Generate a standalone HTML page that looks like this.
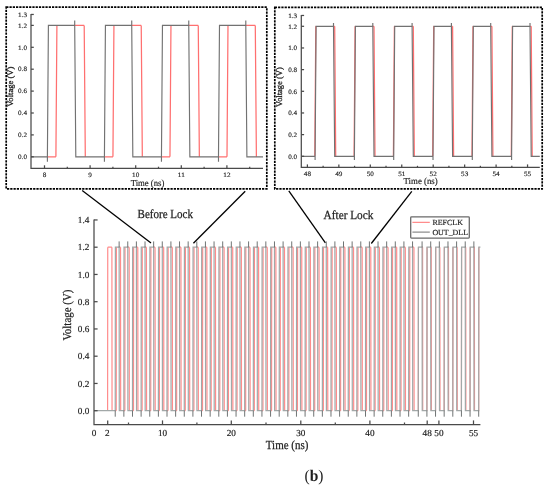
<!DOCTYPE html><html><head><meta charset="utf-8"><style>html,body{margin:0;padding:0;background:#fff;width:550px;height:489px;overflow:hidden}svg{display:block}text{font-family:'Liberation Serif', 'Times New Roman', serif;fill:#1e1e1e;stroke:#1e1e1e;text-rendering:geometricPrecision}.fb{stroke:#2a2a2a;stroke-width:0.28px}</style></head><body>
<svg width="550" height="489" viewBox="0 0 550 489">
<rect x="6.2" y="7.2" width="260.6" height="181.6" stroke="#000" stroke-width="1.7" fill="none" stroke-dasharray="2.25 1.02"/>
<rect x="274.8" y="7.3" width="267.4" height="181.6" stroke="#000" stroke-width="1.7" fill="none" stroke-dasharray="2.25 1.02"/>
<g stroke="#000" stroke-width="1.3">
<line x1="82.2" y1="190.6" x2="151" y2="243"/>
<line x1="245.2" y1="191.3" x2="193.4" y2="243.3"/>
<line x1="288.8" y1="190.8" x2="325.4" y2="242.8"/>
<line x1="411.8" y1="191.3" x2="371.3" y2="243.5"/>
</g>
<path d="M74.7 25.4H84.2M131.73 25.4H141.23M188.76 25.4H198.26M245.79 25.4H255.29M47.4 156.8H55.9M104.43 156.8H112.93M161.46 156.8H169.96M218.49 156.8H226.99M55.9 156.8L56.9 25.4M84.2 25.4L85.3 156.8M112.93 156.8L113.93 25.4M141.23 25.4L142.33 156.8M169.96 156.8L170.96 25.4M198.26 25.4L199.36 156.8M226.99 156.8L227.99 25.4M255.29 25.4L256.39 156.8" stroke="#ff7070" stroke-width="1.25" fill="none" stroke-linejoin="miter"/>
<path d="M31 156.8 H47.4 V161.8 M47.4 156.8 L48.4 25.4 H74.7 V20.4 M74.7 25.4 L75.8 156.8 H104.43 V161.8 M104.43 156.8 L105.43 25.4 H131.73 V20.4 M131.73 25.4 L132.83 156.8 H161.46 V161.8 M161.46 156.8 L162.46 25.4 H188.76 V20.4 M188.76 25.4 L189.86 156.8 H218.49 V161.8 M218.49 156.8 L219.49 25.4 H245.79 V20.4 M245.79 25.4 L246.89 156.8 H263" stroke="#727272" stroke-width="1.15" fill="none" stroke-linejoin="miter"/>
<g stroke="#4a4a4a" stroke-width="1.25" fill="none">
<path d="M31 14 V168.3 H263"/>
<line x1="31" y1="156.8" x2="33.8" y2="156.8"/>
<line x1="31" y1="134.9" x2="33.8" y2="134.9"/>
<line x1="31" y1="113" x2="33.8" y2="113"/>
<line x1="31" y1="91.1" x2="33.8" y2="91.1"/>
<line x1="31" y1="69.2" x2="33.8" y2="69.2"/>
<line x1="31" y1="47.3" x2="33.8" y2="47.3"/>
<line x1="31" y1="25.4" x2="33.8" y2="25.4"/>
<line x1="31" y1="14.45" x2="33.8" y2="14.45"/>
<line x1="44.5" y1="168.3" x2="44.5" y2="165.3"/>
<line x1="90.1" y1="168.3" x2="90.1" y2="165.3"/>
<line x1="135.7" y1="168.3" x2="135.7" y2="165.3"/>
<line x1="181.3" y1="168.3" x2="181.3" y2="165.3"/>
<line x1="226.9" y1="168.3" x2="226.9" y2="165.3"/>
<line x1="67.3" y1="168.3" x2="67.3" y2="166.7"/>
<line x1="112.9" y1="168.3" x2="112.9" y2="166.7"/>
<line x1="158.5" y1="168.3" x2="158.5" y2="166.7"/>
<line x1="204.1" y1="168.3" x2="204.1" y2="166.7"/>
<line x1="249.7" y1="168.3" x2="249.7" y2="166.7"/>
</g>
<text x="27" y="159" font-size="6.6" text-anchor="end" stroke-width="0.14" textLength="8.99" lengthAdjust="spacingAndGlyphs">0.0</text>
<text x="27" y="137.1" font-size="6.6" text-anchor="end" stroke-width="0.14" textLength="8.99" lengthAdjust="spacingAndGlyphs">0.2</text>
<text x="27" y="115.2" font-size="6.6" text-anchor="end" stroke-width="0.14" textLength="8.99" lengthAdjust="spacingAndGlyphs">0.4</text>
<text x="27" y="93.3" font-size="6.6" text-anchor="end" stroke-width="0.14" textLength="8.99" lengthAdjust="spacingAndGlyphs">0.6</text>
<text x="27" y="71.4" font-size="6.6" text-anchor="end" stroke-width="0.14" textLength="8.99" lengthAdjust="spacingAndGlyphs">0.8</text>
<text x="27" y="49.5" font-size="6.6" text-anchor="end" stroke-width="0.14" textLength="8.99" lengthAdjust="spacingAndGlyphs">1.0</text>
<text x="27" y="27.6" font-size="6.6" text-anchor="end" stroke-width="0.14" textLength="8.99" lengthAdjust="spacingAndGlyphs">1.2</text>
<text x="27" y="16.65" font-size="6.6" text-anchor="end" stroke-width="0.14" textLength="8.99" lengthAdjust="spacingAndGlyphs">1.3</text>
<text x="44.5" y="176.6" font-size="6.6" text-anchor="middle" stroke-width="0.14" textLength="3.6" lengthAdjust="spacingAndGlyphs">8</text>
<text x="90.1" y="176.6" font-size="6.6" text-anchor="middle" stroke-width="0.14" textLength="3.6" lengthAdjust="spacingAndGlyphs">9</text>
<text x="135.7" y="176.6" font-size="6.6" text-anchor="middle" stroke-width="0.14" textLength="7.19" lengthAdjust="spacingAndGlyphs">10</text>
<text x="181.3" y="176.6" font-size="6.6" text-anchor="middle" stroke-width="0.14" textLength="6.93" lengthAdjust="spacingAndGlyphs">11</text>
<text x="226.9" y="176.6" font-size="6.6" text-anchor="middle" stroke-width="0.14" textLength="7.19" lengthAdjust="spacingAndGlyphs">12</text>
<text x="147.5" y="185.7" font-size="9.2" text-anchor="middle" stroke-width="0.18" textLength="33.7" lengthAdjust="spacingAndGlyphs">Time (ns)</text>
<text transform="translate(13.4 86.7) rotate(-90)" font-size="8.4" text-anchor="middle" stroke-width="0.3" textLength="40" lengthAdjust="spacingAndGlyphs">Voltage (V)</text>
<path d="M315.8 26.3H316.1M333.5 26.3H334.7M355.1 26.3H355.4M372.8 26.3H374M394.4 26.3H394.7M412.1 26.3H413.3M433.7 26.3H434M451.4 26.3H452.6M473 26.3H473.3M490.7 26.3H491.9M512.3 26.3H512.6M530 26.3H531.2M314.8 156.3L315.8 26.3M334.7 26.3L335.7 156.3M354.1 156.3L355.1 26.3M374 26.3L375 156.3M393.4 156.3L394.4 26.3M413.3 26.3L414.3 156.3M432.7 156.3L433.7 26.3M452.6 26.3L453.6 156.3M472 156.3L473 26.3M491.9 26.3L492.9 156.3M511.3 156.3L512.3 26.3M531.2 26.3L532.2 156.3" stroke="#ff7070" stroke-width="1.25" fill="none" stroke-linejoin="miter"/>
<path d="M301.3 156.3 H315.1 V159.9 M315.1 156.3 L316.1 26.3 H333.5 V22.9 M333.5 26.3 L334.7 156.3 H354.4 V159.9 M354.4 156.3 L355.4 26.3 H372.8 V22.9 M372.8 26.3 L374 156.3 H393.7 V159.9 M393.7 156.3 L394.7 26.3 H412.1 V22.9 M412.1 26.3 L413.3 156.3 H433 V159.9 M433 156.3 L434 26.3 H451.4 V22.9 M451.4 26.3 L452.6 156.3 H472.3 V159.9 M472.3 156.3 L473.3 26.3 H490.7 V22.9 M490.7 26.3 L491.9 156.3 H511.6 V159.9 M511.6 156.3 L512.6 26.3 H530 V22.9 M530 26.3 L531.2 156.3 H539.8" stroke="#727272" stroke-width="1.15" fill="none" stroke-linejoin="miter"/>
<g stroke="#4a4a4a" stroke-width="1.25" fill="none">
<path d="M301.3 15 V167.4 H539.8"/>
<line x1="301.3" y1="156.3" x2="304.1" y2="156.3"/>
<line x1="301.3" y1="134.63" x2="304.1" y2="134.63"/>
<line x1="301.3" y1="112.97" x2="304.1" y2="112.97"/>
<line x1="301.3" y1="91.3" x2="304.1" y2="91.3"/>
<line x1="301.3" y1="69.63" x2="304.1" y2="69.63"/>
<line x1="301.3" y1="47.97" x2="304.1" y2="47.97"/>
<line x1="301.3" y1="26.3" x2="304.1" y2="26.3"/>
<line x1="301.3" y1="15.47" x2="304.1" y2="15.47"/>
<line x1="307.4" y1="167.4" x2="307.4" y2="164.4"/>
<line x1="338.85" y1="167.4" x2="338.85" y2="164.4"/>
<line x1="370.3" y1="167.4" x2="370.3" y2="164.4"/>
<line x1="401.75" y1="167.4" x2="401.75" y2="164.4"/>
<line x1="433.2" y1="167.4" x2="433.2" y2="164.4"/>
<line x1="464.65" y1="167.4" x2="464.65" y2="164.4"/>
<line x1="496.1" y1="167.4" x2="496.1" y2="164.4"/>
<line x1="527.55" y1="167.4" x2="527.55" y2="164.4"/>
<line x1="323.12" y1="167.4" x2="323.12" y2="165.8"/>
<line x1="354.57" y1="167.4" x2="354.57" y2="165.8"/>
<line x1="386.02" y1="167.4" x2="386.02" y2="165.8"/>
<line x1="417.47" y1="167.4" x2="417.47" y2="165.8"/>
<line x1="448.92" y1="167.4" x2="448.92" y2="165.8"/>
<line x1="480.38" y1="167.4" x2="480.38" y2="165.8"/>
<line x1="511.82" y1="167.4" x2="511.82" y2="165.8"/>
</g>
<text x="297.2" y="158.5" font-size="6.6" text-anchor="end" stroke-width="0.14" textLength="8.99" lengthAdjust="spacingAndGlyphs">0.0</text>
<text x="297.2" y="136.83" font-size="6.6" text-anchor="end" stroke-width="0.14" textLength="8.99" lengthAdjust="spacingAndGlyphs">0.2</text>
<text x="297.2" y="115.17" font-size="6.6" text-anchor="end" stroke-width="0.14" textLength="8.99" lengthAdjust="spacingAndGlyphs">0.4</text>
<text x="297.2" y="93.5" font-size="6.6" text-anchor="end" stroke-width="0.14" textLength="8.99" lengthAdjust="spacingAndGlyphs">0.6</text>
<text x="297.2" y="71.83" font-size="6.6" text-anchor="end" stroke-width="0.14" textLength="8.99" lengthAdjust="spacingAndGlyphs">0.8</text>
<text x="297.2" y="50.17" font-size="6.6" text-anchor="end" stroke-width="0.14" textLength="8.99" lengthAdjust="spacingAndGlyphs">1.0</text>
<text x="297.2" y="28.5" font-size="6.6" text-anchor="end" stroke-width="0.14" textLength="8.99" lengthAdjust="spacingAndGlyphs">1.2</text>
<text x="297.2" y="17.67" font-size="6.6" text-anchor="end" stroke-width="0.14" textLength="8.99" lengthAdjust="spacingAndGlyphs">1.3</text>
<text x="307.4" y="176" font-size="6.6" text-anchor="middle" stroke-width="0.14" textLength="7.19" lengthAdjust="spacingAndGlyphs">48</text>
<text x="338.85" y="176" font-size="6.6" text-anchor="middle" stroke-width="0.14" textLength="7.19" lengthAdjust="spacingAndGlyphs">49</text>
<text x="370.3" y="176" font-size="6.6" text-anchor="middle" stroke-width="0.14" textLength="7.19" lengthAdjust="spacingAndGlyphs">50</text>
<text x="401.75" y="176" font-size="6.6" text-anchor="middle" stroke-width="0.14" textLength="7.19" lengthAdjust="spacingAndGlyphs">51</text>
<text x="433.2" y="176" font-size="6.6" text-anchor="middle" stroke-width="0.14" textLength="7.19" lengthAdjust="spacingAndGlyphs">52</text>
<text x="464.65" y="176" font-size="6.6" text-anchor="middle" stroke-width="0.14" textLength="7.19" lengthAdjust="spacingAndGlyphs">53</text>
<text x="496.1" y="176" font-size="6.6" text-anchor="middle" stroke-width="0.14" textLength="7.19" lengthAdjust="spacingAndGlyphs">54</text>
<text x="527.55" y="176" font-size="6.6" text-anchor="middle" stroke-width="0.14" textLength="7.19" lengthAdjust="spacingAndGlyphs">55</text>
<text x="420.6" y="184.1" font-size="9.2" text-anchor="middle" stroke-width="0.18" textLength="34.1" lengthAdjust="spacingAndGlyphs">Time (ns)</text>
<text transform="translate(281.7 87.1) rotate(-90)" font-size="8.4" text-anchor="middle" stroke-width="0.3" textLength="39.6" lengthAdjust="spacingAndGlyphs">Voltage (V)</text>
<path d="M107.75 247.2H111.9M119.13 247.2H120.53M127.76 247.2H129.16M136.39 247.2H137.79M145.02 247.2H146.42M153.65 247.2H155.05M162.28 247.2H163.68M170.91 247.2H172.31M179.54 247.2H180.94M188.17 247.2H189.57M196.8 247.2H198.2M205.43 247.2H206.83M214.06 247.2H215.46M222.69 247.2H224.09M231.32 247.2H232.72M239.95 247.2H241.35M248.58 247.2H249.98M257.21 247.2H258.61M265.84 247.2H267.24M274.47 247.2H275.87M283.1 247.2H284.5M291.73 247.2H293.13M300.36 247.2H301.76M308.99 247.2H310.39M317.62 247.2H319.02M326.25 247.2H327.65M334.88 247.2H336.28M343.51 247.2H344.91M352.14 247.2H353.54M360.77 247.2H362.17M369.4 247.2H370.8M378.03 247.2H379.43M386.66 247.2H388.06M395.29 247.2H396.69M403.92 247.2H405.32M412.55 247.2H413.95M422.08 247.2H422.58M430.71 247.2H431.21M439.34 247.2H439.84M447.97 247.2H448.47M456.6 247.2H457.1M465.23 247.2H465.73M473.86 247.2H474.36M115.23 410.7H116.23M123.86 410.7H124.86M132.49 410.7H133.49M141.12 410.7H142.12M149.75 410.7H150.75M158.38 410.7H159.38M167.01 410.7H168.01M175.64 410.7H176.64M184.27 410.7H185.27M192.9 410.7H193.9M201.53 410.7H202.53M210.16 410.7H211.16M218.79 410.7H219.79M227.42 410.7H228.42M236.05 410.7H237.05M244.68 410.7H245.68M253.31 410.7H254.31M261.94 410.7H262.94M270.57 410.7H271.57M279.2 410.7H280.2M287.83 410.7H288.83M296.46 410.7H297.46M305.09 410.7H306.09M313.72 410.7H314.72M322.35 410.7H323.35M330.98 410.7H331.98M339.61 410.7H340.61M348.24 410.7H349.24M356.87 410.7H357.87M365.5 410.7H366.5M374.13 410.7H375.13M382.76 410.7H383.76M391.39 410.7H392.39M400.02 410.7H401.02M408.65 410.7H409.65M107.6 410.7L107.75 247.2M111.9 247.2L112.05 410.7M116.23 410.7L116.38 247.2M120.53 247.2L120.68 410.7M124.86 410.7L125.01 247.2M129.16 247.2L129.31 410.7M133.49 410.7L133.64 247.2M137.79 247.2L137.94 410.7M142.12 410.7L142.27 247.2M146.42 247.2L146.57 410.7M150.75 410.7L150.9 247.2M155.05 247.2L155.2 410.7M159.38 410.7L159.53 247.2M163.68 247.2L163.83 410.7M168.01 410.7L168.16 247.2M172.31 247.2L172.46 410.7M176.64 410.7L176.79 247.2M180.94 247.2L181.09 410.7M185.27 410.7L185.42 247.2M189.57 247.2L189.72 410.7M193.9 410.7L194.05 247.2M198.2 247.2L198.35 410.7M202.53 410.7L202.68 247.2M206.83 247.2L206.98 410.7M211.16 410.7L211.31 247.2M215.46 247.2L215.61 410.7M219.79 410.7L219.94 247.2M224.09 247.2L224.24 410.7M228.42 410.7L228.57 247.2M232.72 247.2L232.87 410.7M237.05 410.7L237.2 247.2M241.35 247.2L241.5 410.7M245.68 410.7L245.83 247.2M249.98 247.2L250.13 410.7M254.31 410.7L254.46 247.2M258.61 247.2L258.76 410.7M262.94 410.7L263.09 247.2M267.24 247.2L267.39 410.7M271.57 410.7L271.72 247.2M275.87 247.2L276.02 410.7M280.2 410.7L280.35 247.2M284.5 247.2L284.65 410.7M288.83 410.7L288.98 247.2M293.13 247.2L293.28 410.7M297.46 410.7L297.61 247.2M301.76 247.2L301.91 410.7M306.09 410.7L306.24 247.2M310.39 247.2L310.54 410.7M314.72 410.7L314.87 247.2M319.02 247.2L319.17 410.7M323.35 410.7L323.5 247.2M327.65 247.2L327.8 410.7M331.98 410.7L332.13 247.2M336.28 247.2L336.43 410.7M340.61 410.7L340.76 247.2M344.91 247.2L345.06 410.7M349.24 410.7L349.39 247.2M353.54 247.2L353.69 410.7M357.87 410.7L358.02 247.2M362.17 247.2L362.32 410.7M366.5 410.7L366.65 247.2M370.8 247.2L370.95 410.7M375.13 410.7L375.28 247.2M379.43 247.2L379.58 410.7M383.76 410.7L383.91 247.2M388.06 247.2L388.21 410.7M392.39 410.7L392.54 247.2M396.69 247.2L396.84 410.7M401.02 410.7L401.17 247.2M405.32 247.2L405.47 410.7M409.65 410.7L409.8 247.2M413.95 247.2L414.1 410.7M418.28 410.7L418.43 247.2M422.58 247.2L422.73 410.7M426.91 410.7L427.06 247.2M431.21 247.2L431.36 410.7M435.54 410.7L435.69 247.2M439.84 247.2L439.99 410.7M444.17 410.7L444.32 247.2M448.47 247.2L448.62 410.7M452.8 410.7L452.95 247.2M457.1 247.2L457.25 410.7M461.43 410.7L461.58 247.2M465.73 247.2L465.88 410.7M470.06 410.7L470.21 247.2M474.36 247.2L474.51 410.7M478.69 410.7L478.84 247.2" stroke="#ff8c8c" stroke-width="1.2" fill="none" stroke-linejoin="miter"/>
<path d="M94 410.7 H115.23 L115.38 247.2 H119.13 L119.28 410.7 H123.86 L124.01 247.2 H127.76 L127.91 410.7 H132.49 L132.64 247.2 H136.39 L136.54 410.7 H141.12 L141.27 247.2 H145.02 L145.17 410.7 H149.75 L149.9 247.2 H153.65 L153.8 410.7 H158.38 L158.53 247.2 H162.28 L162.43 410.7 H167.01 L167.16 247.2 H170.91 L171.06 410.7 H175.64 L175.79 247.2 H179.54 L179.69 410.7 H184.27 L184.42 247.2 H188.17 L188.32 410.7 H192.9 L193.05 247.2 H196.8 L196.95 410.7 H201.53 L201.68 247.2 H205.43 L205.58 410.7 H210.16 L210.31 247.2 H214.06 L214.21 410.7 H218.79 L218.94 247.2 H222.69 L222.84 410.7 H227.42 L227.57 247.2 H231.32 L231.47 410.7 H236.05 L236.2 247.2 H239.95 L240.1 410.7 H244.68 L244.83 247.2 H248.58 L248.73 410.7 H253.31 L253.46 247.2 H257.21 L257.36 410.7 H261.94 L262.09 247.2 H265.84 L265.99 410.7 H270.57 L270.72 247.2 H274.47 L274.62 410.7 H279.2 L279.35 247.2 H283.1 L283.25 410.7 H287.83 L287.98 247.2 H291.73 L291.88 410.7 H296.46 L296.61 247.2 H300.36 L300.51 410.7 H305.09 L305.24 247.2 H308.99 L309.14 410.7 H313.72 L313.87 247.2 H317.62 L317.77 410.7 H322.35 L322.5 247.2 H326.25 L326.4 410.7 H330.98 L331.13 247.2 H334.88 L335.03 410.7 H339.61 L339.76 247.2 H343.51 L343.66 410.7 H348.24 L348.39 247.2 H352.14 L352.29 410.7 H356.87 L357.02 247.2 H360.77 L360.92 410.7 H365.5 L365.65 247.2 H369.4 L369.55 410.7 H374.13 L374.28 247.2 H378.03 L378.18 410.7 H382.76 L382.91 247.2 H386.66 L386.81 410.7 H391.39 L391.54 247.2 H395.29 L395.44 410.7 H400.02 L400.17 247.2 H403.92 L404.07 410.7 H408.65 L408.8 247.2 H412.55 L412.7 410.7 H418.28 L418.43 247.2 H422.08 L422.23 410.7 H426.91 L427.06 247.2 H430.71 L430.86 410.7 H435.54 L435.69 247.2 H439.34 L439.49 410.7 H444.17 L444.32 247.2 H447.97 L448.12 410.7 H452.8 L452.95 247.2 H456.6 L456.75 410.7 H461.43 L461.58 247.2 H465.23 L465.38 410.7 H470.06 L470.21 247.2 H473.86 L474.01 410.7 H478.69 L478.84 247.2 H480.4" stroke="#a2a8a8" stroke-width="1.2" fill="none" stroke-linejoin="miter"/>
<path d="M115.23 410.4V416.7M119.13 247.5V241.4M123.86 410.4V416.7M127.76 247.5V241.4M132.49 410.4V416.7M136.39 247.5V241.4M141.12 410.4V416.7M145.02 247.5V241.4M149.75 410.4V416.7M153.65 247.5V241.4M158.38 410.4V416.7M162.28 247.5V241.4M167.01 410.4V416.7M170.91 247.5V241.4M175.64 410.4V416.7M179.54 247.5V241.4M184.27 410.4V416.7M188.17 247.5V241.4M192.9 410.4V416.7M196.8 247.5V241.4M201.53 410.4V416.7M205.43 247.5V241.4M210.16 410.4V416.7M214.06 247.5V241.4M218.79 410.4V416.7M222.69 247.5V241.4M227.42 410.4V416.7M231.32 247.5V241.4M236.05 410.4V416.7M239.95 247.5V241.4M244.68 410.4V416.7M248.58 247.5V241.4M253.31 410.4V416.7M257.21 247.5V241.4M261.94 410.4V416.7M265.84 247.5V241.4M270.57 410.4V416.7M274.47 247.5V241.4M279.2 410.4V416.7M283.1 247.5V241.4M287.83 410.4V416.7M291.73 247.5V241.4M296.46 410.4V416.7M300.36 247.5V241.4M305.09 410.4V416.7M308.99 247.5V241.4M313.72 410.4V416.7M317.62 247.5V241.4M322.35 410.4V416.7M326.25 247.5V241.4M330.98 410.4V416.7M334.88 247.5V241.4M339.61 410.4V416.7M343.51 247.5V241.4M348.24 410.4V416.7M352.14 247.5V241.4M356.87 410.4V416.7M360.77 247.5V241.4M365.5 410.4V416.7M369.4 247.5V241.4M374.13 410.4V416.7M378.03 247.5V241.4M382.76 410.4V416.7M386.66 247.5V241.4M391.39 410.4V416.7M395.29 247.5V241.4M400.02 410.4V416.7M403.92 247.5V241.4M408.65 410.4V416.7M412.55 247.5V241.4M418.28 410.4V416.7M422.08 247.5V241.4M426.91 410.4V416.7M430.71 247.5V241.4M435.54 410.4V416.7M439.34 247.5V241.4M444.17 410.4V416.7M447.97 247.5V241.4M452.8 410.4V416.7M456.6 247.5V241.4M461.43 410.4V416.7M465.23 247.5V241.4M470.06 410.4V416.7M473.86 247.5V241.4M478.69 410.4V416.7" stroke="#707474" stroke-width="1" fill="none" stroke-linejoin="miter"/>
<g stroke="#4a4a4a" stroke-width="1.25" fill="none">
<path d="M94 219.5 V424.7 H480.4"/>
<line x1="94" y1="410.7" x2="97.6" y2="410.7"/>
<line x1="94" y1="383.45" x2="97.6" y2="383.45"/>
<line x1="94" y1="356.2" x2="97.6" y2="356.2"/>
<line x1="94" y1="328.95" x2="97.6" y2="328.95"/>
<line x1="94" y1="301.7" x2="97.6" y2="301.7"/>
<line x1="94" y1="274.45" x2="97.6" y2="274.45"/>
<line x1="94" y1="247.2" x2="97.6" y2="247.2"/>
<line x1="94" y1="219.95" x2="97.6" y2="219.95"/>
<line x1="107.7" y1="424.7" x2="107.7" y2="420.4"/>
<line x1="162.5" y1="424.7" x2="162.5" y2="420.4"/>
<line x1="231.3" y1="424.7" x2="231.3" y2="420.4"/>
<line x1="300.8" y1="424.7" x2="300.8" y2="420.4"/>
<line x1="369.9" y1="424.7" x2="369.9" y2="420.4"/>
<line x1="427.2" y1="424.7" x2="427.2" y2="420.4"/>
<line x1="438.9" y1="424.7" x2="438.9" y2="420.4"/>
<line x1="473.5" y1="424.7" x2="473.5" y2="420.4"/>
<line x1="128.5" y1="424.7" x2="128.5" y2="422.5"/>
<line x1="196.9" y1="424.7" x2="196.9" y2="422.5"/>
<line x1="266" y1="424.7" x2="266" y2="422.5"/>
<line x1="335.3" y1="424.7" x2="335.3" y2="422.5"/>
<line x1="404.5" y1="424.7" x2="404.5" y2="422.5"/>
</g>
<text x="89.3" y="413.9" font-size="9.2" text-anchor="end" stroke-width="0.18">0.0</text>
<text x="89.3" y="386.65" font-size="9.2" text-anchor="end" stroke-width="0.18">0.2</text>
<text x="89.3" y="359.4" font-size="9.2" text-anchor="end" stroke-width="0.18">0.4</text>
<text x="89.3" y="332.15" font-size="9.2" text-anchor="end" stroke-width="0.18">0.6</text>
<text x="89.3" y="304.9" font-size="9.2" text-anchor="end" stroke-width="0.18">0.8</text>
<text x="89.3" y="277.65" font-size="9.2" text-anchor="end" stroke-width="0.18">1.0</text>
<text x="89.3" y="250.4" font-size="9.2" text-anchor="end" stroke-width="0.18">1.2</text>
<text x="89.3" y="223.15" font-size="9.2" text-anchor="end" stroke-width="0.18">1.4</text>
<text x="94" y="436.4" font-size="9.2" text-anchor="middle" stroke-width="0.18">0</text>
<text x="107.3" y="436.4" font-size="9.2" text-anchor="middle" stroke-width="0.18">2</text>
<text x="162.5" y="436.4" font-size="9.2" text-anchor="middle" stroke-width="0.18">10</text>
<text x="231.3" y="436.4" font-size="9.2" text-anchor="middle" stroke-width="0.18">20</text>
<text x="300.8" y="436.4" font-size="9.2" text-anchor="middle" stroke-width="0.18">30</text>
<text x="369.9" y="436.4" font-size="9.2" text-anchor="middle" stroke-width="0.18">40</text>
<text x="427.2" y="436.4" font-size="9.2" text-anchor="middle" stroke-width="0.18">48</text>
<text x="438.9" y="436.4" font-size="9.2" text-anchor="middle" stroke-width="0.18">50</text>
<text x="473.5" y="436.4" font-size="9.2" text-anchor="middle" stroke-width="0.18">55</text>
<text x="287.1" y="448.5" font-size="12.4" text-anchor="middle" stroke-width="0.25" textLength="42.6" lengthAdjust="spacingAndGlyphs">Time (ns)</text>
<text transform="translate(71.1 315.1) rotate(-90)" font-size="12" text-anchor="middle" stroke-width="0.24" textLength="51" lengthAdjust="spacingAndGlyphs">Voltage (V)</text>
<rect x="410.7" y="216.9" width="58.6" height="21.2" rx="0.8" fill="#fff" stroke="#6a6a6a" stroke-width="1.3"/>
<line x1="412.4" y1="222.3" x2="429.8" y2="222.3" stroke="#ff7070" stroke-width="1"/>
<line x1="412.4" y1="232.1" x2="429.8" y2="232.1" stroke="#727272" stroke-width="1"/>
<text x="432.4" y="225" font-size="7.8" text-anchor="start" stroke-width="0.16" textLength="30.5" lengthAdjust="spacingAndGlyphs">REFCLK</text>
<text x="432.4" y="235" font-size="7.8" text-anchor="start" stroke-width="0.16" textLength="35.6" lengthAdjust="spacingAndGlyphs">OUT_DLL</text>
<text x="165.3" y="217.8" font-size="12.4" text-anchor="middle" stroke-width="0.25" textLength="55.4" lengthAdjust="spacingAndGlyphs">Before Lock</text>
<text x="348.5" y="218.8" font-size="12.4" text-anchor="middle" stroke-width="0.25" textLength="49.8" lengthAdjust="spacingAndGlyphs">After Lock</text>
<text x="314" y="480.6" font-size="16.4" text-anchor="middle" stroke-width="0" textLength="19" lengthAdjust="spacingAndGlyphs">(<tspan font-weight="bold">b</tspan>)</text>
</svg></body></html>
